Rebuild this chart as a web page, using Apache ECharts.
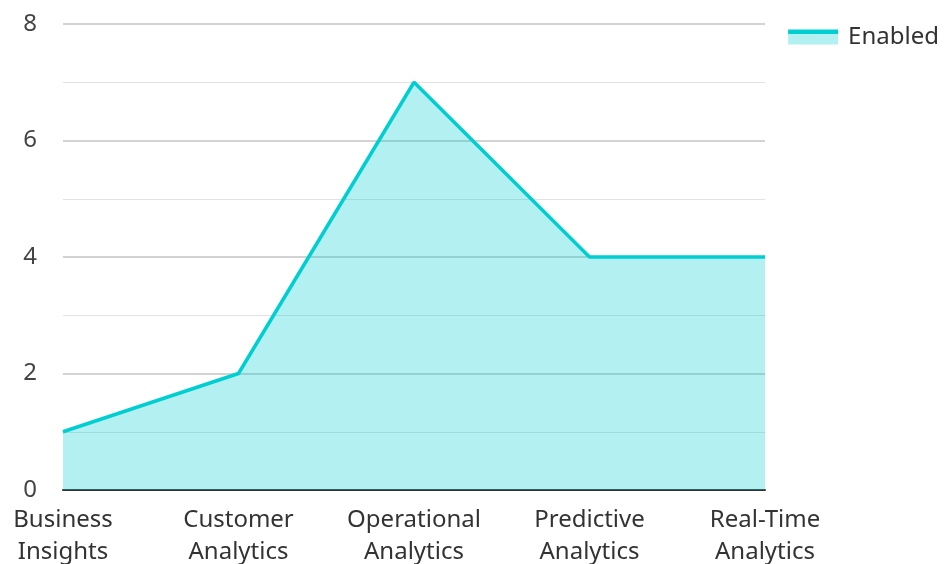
<!DOCTYPE html>
<html><head><meta charset="utf-8">
<script src="https://cdn.jsdelivr.net/npm/echarts@6/dist/echarts.min.js"></script>
<style>html,body{margin:0;padding:0;background:#fff}#c{width:946px;height:564px}</style>
</head><body><div id="c"></div>
<script>
const categories = ['Business\nInsights', 'Customer\nAnalytics', 'Operational\nAnalytics', 'Predictive\nAnalytics', 'Real-Time\nAnalytics'];
const enabledValues = [1, 2, 7, 4, 4];
const seriesName = 'Enabled';
const yMin = 0, yMax = 8, yInterval = 2;

const chart = echarts.init(document.getElementById('c'), null, {renderer: 'canvas'});
const font = '"Noto Sans", "Open Sans", sans-serif';
const lineColor = '#00CED1';
const areaColor = '#b2f0f1';
chart.setOption({
  animation: false,
  textStyle: {fontFamily: font},
  legend: {
    right: 2, top: 20, itemWidth: 50, itemHeight: 15, itemGap: 10,
    icon: 'rect',
    itemStyle: {
      color: {type: 'linear', x: 0, y: 0, x2: 0, y2: 1, colorStops: [
        {offset: 0, color: lineColor}, {offset: 0.27, color: lineColor},
        {offset: 0.27, color: areaColor}, {offset: 1, color: areaColor}
      ]}
    },
    textStyle: {fontSize: 24, color: '#333', fontFamily: font, padding: [0, 0, 0, 5]},
    data: [{name: seriesName}]
  },
  grid: {left: 63, right: 181, top: 24, bottom: 74, containLabel: false, outerBoundsMode: 'none'},
  xAxis: {
    type: 'category', boundaryGap: false, data: categories,
    axisLine: {show: true, lineStyle: {color: '#333', width: 2}},
    axisTick: {show: false},
    axisLabel: {fontSize: 24, color: '#333', lineHeight: 32, margin: 14, fontFamily: font, interval: 0},
    splitLine: {show: false}
  },
  yAxis: {
    type: 'value', min: yMin, max: yMax, interval: yInterval,
    axisLine: {show: false}, axisTick: {show: false},
    axisLabel: {fontSize: 24, color: '#444', margin: 26, fontFamily: font},
    splitLine: {show: true, lineStyle: {color: '#c4c4c4', width: 1.5}},
    minorTick: {show: false, splitNumber: 2},
    minorSplitLine: {show: true, lineStyle: {color: '#e2e2e2', width: 1}}
  },
  series: [{
    name: seriesName, type: 'line', data: enabledValues,
    symbol: 'none', showSymbol: false,
    lineStyle: {color: lineColor, width: 3.5},
    itemStyle: {color: lineColor},
    areaStyle: {color: lineColor, opacity: 0.3}
  }]
});
</script></body></html>
